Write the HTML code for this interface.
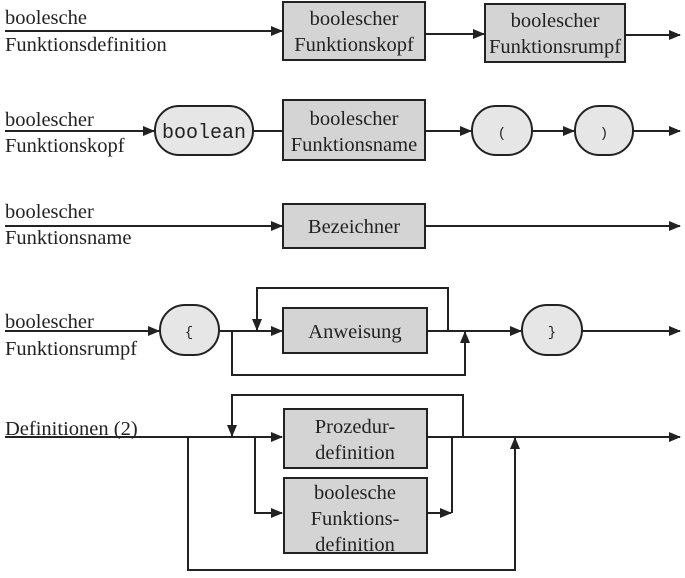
<!DOCTYPE html>
<html><head><style>body{margin:0;background:#fff}svg text{font-family:"Liberation Serif",serif;font-size:20.5px;fill:#222}</style></head><body>
<svg width="685" height="573" viewBox="0 0 685 573" xmlns="http://www.w3.org/2000/svg">
<defs><marker id="a" markerWidth="12" markerHeight="10" refX="11" refY="5" orient="auto" markerUnits="userSpaceOnUse"><path d="M0,0 L12,5 L0,10 z" fill="#222"/></marker></defs>
<g stroke="#222" stroke-width="2" fill="none">
<line x1="5" y1="31" x2="282" y2="31" marker-end="url(#a)"/>
<line x1="425" y1="34" x2="484" y2="34" marker-end="url(#a)"/>
<line x1="625" y1="35" x2="680" y2="35" marker-end="url(#a)"/>
<line x1="5" y1="131" x2="154" y2="131" marker-end="url(#a)"/>
<line x1="253" y1="131" x2="283" y2="131"/>
<line x1="425" y1="131" x2="471" y2="131" marker-end="url(#a)"/>
<line x1="532" y1="131" x2="574" y2="131" marker-end="url(#a)"/>
<line x1="633" y1="131" x2="680" y2="131" marker-end="url(#a)"/>
<line x1="5" y1="226" x2="282" y2="226" marker-end="url(#a)"/>
<line x1="425" y1="226" x2="680" y2="226" marker-end="url(#a)"/>
<line x1="5" y1="331" x2="159" y2="331" marker-end="url(#a)"/>
<line x1="219" y1="331" x2="282" y2="331" marker-end="url(#a)"/>
<polyline points="448,331 448,288 257,288 257,330" marker-end="url(#a)"/>
<polyline points="232,331 232,375 465,375 465,332" marker-end="url(#a)"/>
<line x1="427" y1="331" x2="521" y2="331" marker-end="url(#a)"/>
<line x1="582" y1="331" x2="680" y2="331" marker-end="url(#a)"/>
<line x1="5" y1="437" x2="282" y2="437" marker-end="url(#a)"/>
<polyline points="463,437 463,395 232,395 232,436" marker-end="url(#a)"/>
<polyline points="255,437 255,513 282,513" marker-end="url(#a)"/>
<line x1="427" y1="513" x2="451" y2="513" marker-end="url(#a)"/>
<line x1="452" y1="513" x2="452" y2="437"/>
<polyline points="188,437 188,570 515,570 515,438" marker-end="url(#a)"/>
<line x1="427" y1="437" x2="680" y2="437" marker-end="url(#a)"/>
</g>
<g fill="#d4d4d4" stroke="#222" stroke-width="2">
<rect x="283" y="2" width="142" height="58"/>
<rect x="485" y="4" width="140" height="58"/>
<rect x="283" y="100" width="142" height="60"/>
<rect x="283" y="204" width="142" height="44"/>
<rect x="283" y="308" width="144" height="45"/>
<rect x="284" y="409" width="143" height="59"/>
<rect x="284" y="478" width="143" height="75"/>
</g>
<g fill="#e6e6e6" stroke="#222" stroke-width="2">
<rect x="155" y="106" width="98" height="49" rx="24"/>
<rect x="472" y="106" width="60" height="49" rx="24"/>
<rect x="575" y="106" width="58" height="49" rx="24"/>
<rect x="160" y="305" width="59" height="50" rx="25"/>
<rect x="522" y="305" width="60" height="50" rx="25"/>
</g>
<text x="5" y="24">boolesche</text>
<text x="5" y="51">Funktionsdefinition</text>
<text x="354" y="25" text-anchor="middle">boolescher</text>
<text x="354" y="51" text-anchor="middle">Funktionskopf</text>
<text x="555" y="27" text-anchor="middle">boolescher</text>
<text x="555" y="53" text-anchor="middle">Funktionsrumpf</text>
<text x="5" y="126">boolescher</text>
<text x="5" y="152">Funktionskopf</text>
<text x="204" y="138" text-anchor="middle" style="font-family:'Liberation Mono',monospace;font-size:20px">boolean</text>
<text x="354" y="125" text-anchor="middle">boolescher</text>
<text x="354" y="151" text-anchor="middle">Funktionsname</text>
<text x="502" y="137" text-anchor="middle" style="font-family:'Liberation Mono',monospace;font-size:14px">(</text>
<text x="604" y="137" text-anchor="middle" style="font-family:'Liberation Mono',monospace;font-size:14px">)</text>
<text x="5" y="218">boolescher</text>
<text x="5" y="244">Funktionsname</text>
<text x="354" y="233" text-anchor="middle">Bezeichner</text>
<text x="5" y="328">boolescher</text>
<text x="5" y="355">Funktionsrumpf</text>
<text x="189" y="336" text-anchor="middle" style="font-family:'Liberation Mono',monospace;font-size:14px">{</text>
<text x="552" y="336" text-anchor="middle" style="font-family:'Liberation Mono',monospace;font-size:14px">}</text>
<text x="355" y="338" text-anchor="middle">Anweisung</text>
<text x="5" y="435">Definitionen (2)</text>
<text x="355" y="433" text-anchor="middle">Prozedur-</text>
<text x="355" y="459" text-anchor="middle">definition</text>
<text x="355" y="499" text-anchor="middle">boolesche</text>
<text x="355" y="525" text-anchor="middle">Funktions-</text>
<text x="355" y="551" text-anchor="middle">definition</text>
</svg>
</body></html>
